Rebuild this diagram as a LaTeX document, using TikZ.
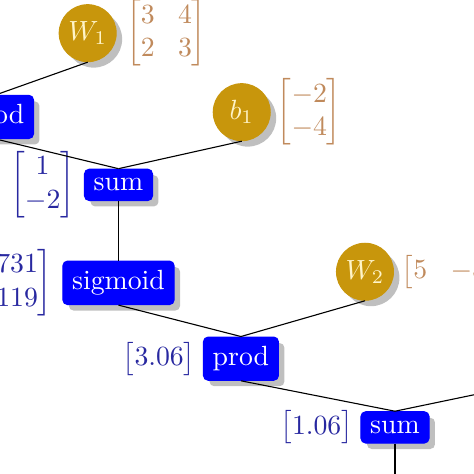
\documentclass[tikz,border=0pt]{standalone}
\usepackage{amsmath, amsfonts, amssymb}
\usepackage{tikz}
\usetikzlibrary{positioning,shadows,shapes}

\definecolor{paramgold}{RGB}{200,150,12}
\definecolor{paramtext}{RGB}{255,244,200}
\definecolor{paramval}{RGB}{192,138,92}
\definecolor{opval}{RGB}{40,40,160}
\setlength{\arraycolsep}{4.2pt}

\tikzset {
    style op/.style={
        top color=blue,
        bottom color=blue,
        draw=blue,
        text=white,
        rectangle, % Set the shape as a rectangle
        rounded corners=.06cm,
        drop shadow,
        align=center,
    },
    style param/.style={
        top color=paramgold,
        bottom color=paramgold,
        draw=paramgold,
        text=paramtext,
        circle, % Set the shape as a circle
        inner sep=1.5pt,
        minimum size=20.5pt,
        drop shadow,
    },
    style pval/.style={
        text=paramval,
        inner sep=1pt,
    },
    style oval/.style={
        text=opval,
        inner sep=1pt,
    },
}

\begin{document}
\begin{tikzpicture}
        \useasboundingbox (0,0) rectangle (6,-6);
        \clip (0,0) rectangle (6,-6);

        % parameters
        \node[style param] at (1.11,-0.42) (w1) {$W_1$};
        \node[style param] at (3.06,-1.42) (b1) {$b_1$};
        \node[style param] at (4.62,-3.44) (w2) {$W_2$};

        % operations
        \node[style op] at (-0.05,-1.48) (prod1) {prod};
        \node[style op] at (1.50,-2.34) (sum1) {sum};
        \node[style op] at (1.50,-3.58) (sigmoid) {sigmoid};
        \node[style op] at (3.05,-4.54) (prod2) {prod};
        \node[style op] at (5.00,-5.41) (sum2) {sum};

        \coordinate (b2) at (6.90,-4.81);
        \coordinate (out) at (5.00,-6.60);

        % values
        \node[style pval, right=2.2pt of w1] (w1val) {$\begin{bmatrix} 3 & 4 \\ 2 & 3 \end{bmatrix}$};
        \node[style pval, right=1pt of b1] (b1val) {$\begin{bmatrix} -2 \\ -4 \end{bmatrix}$};
        \node[style pval, right=1.6pt of w2] (w2val) {$\begin{bmatrix} 5 & -5 \end{bmatrix}$};
        \node[style oval, left=2pt of sum1] (sum1val) {$\begin{bmatrix} 1 \\ -2 \end{bmatrix}$};
        \node[style oval, left=2.3pt of sigmoid] (sigmoidval) {$\begin{bmatrix} 0.731 \\ 0.119 \end{bmatrix}$};
        \node[style oval, left=1.5pt of prod2] (prod2val) {$\begin{bmatrix} 3.06 \end{bmatrix}$};
        \node[style oval, left=1.5pt of sum2] (sum2val) {$\begin{bmatrix} 1.06 \end{bmatrix}$};

        \draw (w1.south) -- (prod1.north);
        \draw (prod1.south) -- (sum1.north);
        \draw (b1.south) -- (sum1.north);
        \draw (sum1.south) -- (sigmoid.north);
        \draw (sigmoid.south) -- (prod2.north);
        \draw (w2.south) -- (prod2.north);
        \draw (prod2.south) -- (sum2.north);
        \draw (b2) -- (sum2.north);
        \draw (sum2.south) -- (out);
    \end{tikzpicture}
\end{document}
